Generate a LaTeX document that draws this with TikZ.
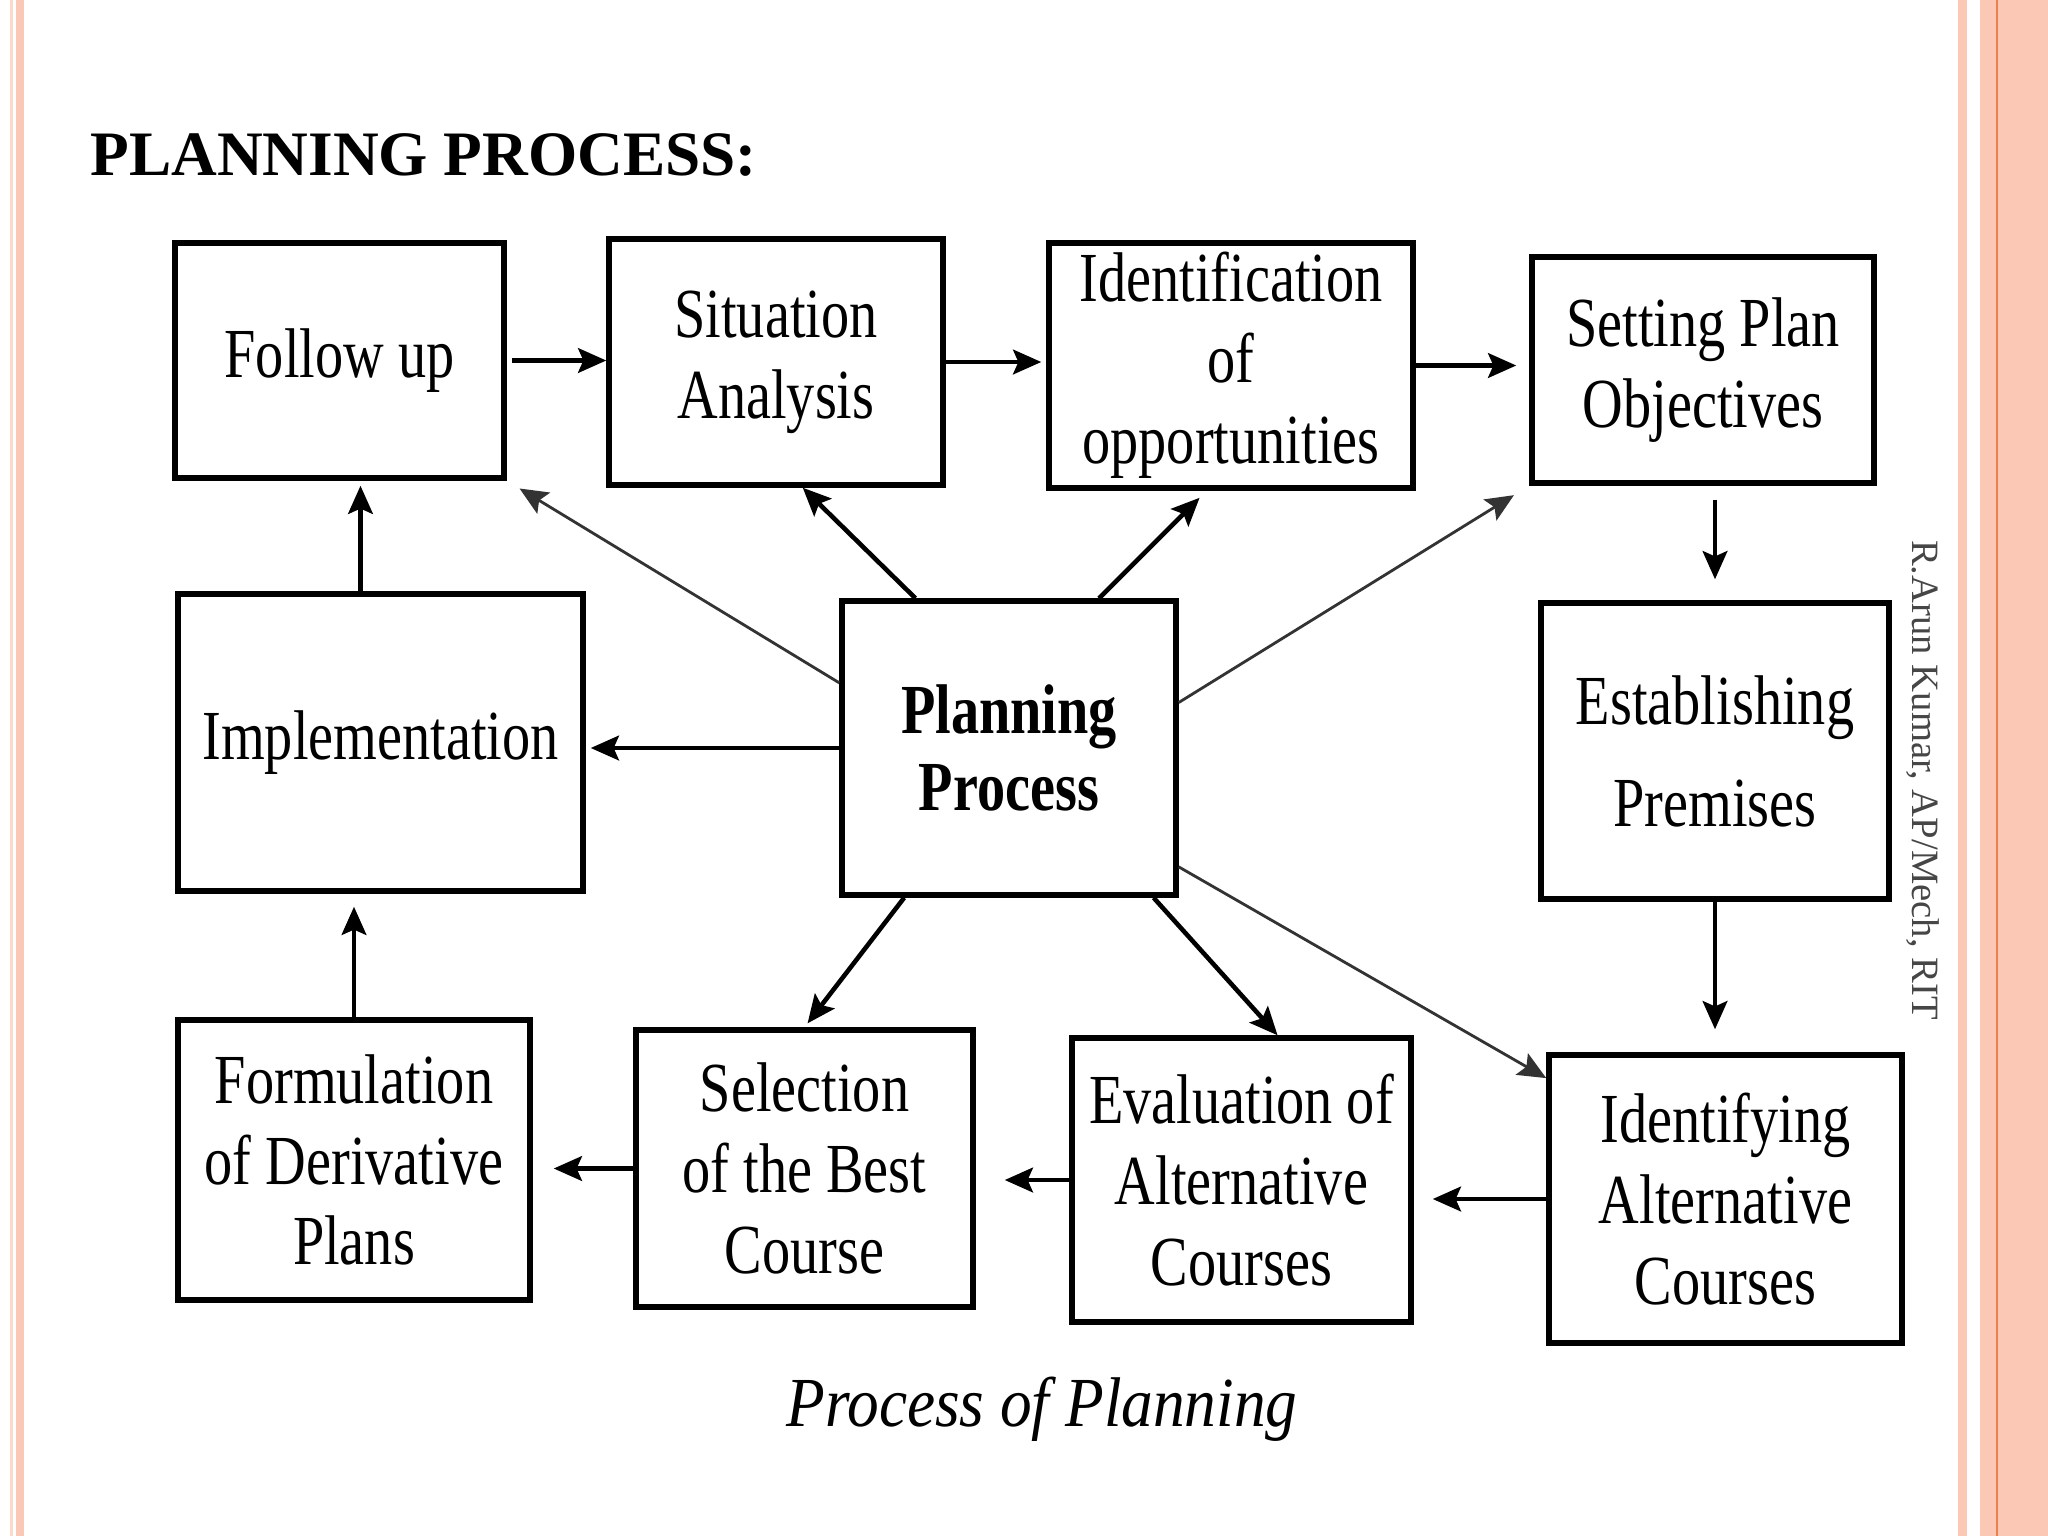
\documentclass[tikz,border=0pt]{standalone}
\usepackage{fontspec}
\setmainfont{Liberation Serif}
\newfontfamily\boxfont[FakeStretch=0.8]{Liberation Serif}
\newfontfamily\capfont[FakeStretch=0.9]{Liberation Serif}
\usetikzlibrary{arrows.meta,calc}
\definecolor{salmon}{RGB}{252,200,182}
\definecolor{salmonline}{RGB}{236,128,80}
\definecolor{markgray}{RGB}{70,70,70}

\begin{document}
\begin{tikzpicture}[x=0.01cm,y=-0.01cm,
  box/.style={draw, line width=1.5pt, inner sep=0pt, align=center,
    font=\boxfont\fontsize{20}{23}\selectfont},
  flow/.style={line width=1.3pt, -{Stealth[length=8pt,width=7pt,inset=1.5pt]}},
  faint/.style={flow, line width=0.8pt, draw=black!80}]
    % page and side stripes
    \useasboundingbox (0,0) rectangle (2048,1536);
    \fill[white] (0,0) rectangle (2048,1536);
    \fill[salmon!70] (10,0) rectangle (13,1536);
    \fill[salmon] (16,0) rectangle (24,1536);
    \fill[salmon] (1958,0) rectangle (1967,1536);
    \fill[salmon] (1980,0) rectangle (2048,1536);
    \fill[salmonline] (1996,0) rectangle (1998,1536);

    \node[anchor=base west, font=\bfseries\fontsize{18}{20}\selectfont] (title) at (78,175) {PLANNING PROCESS:};

    % boxes
    \node[box, minimum width=3.29cm, minimum height=2.35cm] (fu) at (339.5,360.5) {Follow up};
    \node[box, minimum width=3.34cm, minimum height=2.46cm] (sa) at (776,362) {Situation\\Analysis};
    \node[box, minimum width=3.64cm, minimum height=2.45cm] (io) at (1231,365.5) {Identification\\of\\opportunities};
    \node[box, minimum width=3.42cm, minimum height=2.26cm] (sp) at (1703,370) {Setting Plan\\Objectives};
    \node[box, minimum width=4.05cm, minimum height=2.97cm] (im) at (380.5,742.5) {Implementation};
    \node[box, minimum width=3.34cm, minimum height=2.94cm,
      font=\boxfont\bfseries\fontsize{20}{22}\selectfont] (pp) at (1009,748) {Planning\\Process};
    \node[box, minimum width=3.48cm, minimum height=2.96cm] (ep) at (1715,751) {Establishing\\[6pt]Premises};
    \node[box, minimum width=3.52cm, minimum height=2.80cm] (fd) at (354,1160) {Formulation\\of Derivative\\Plans};
    \node[box, minimum width=3.37cm, minimum height=2.77cm] (sb) at (804.5,1168.5) {Selection\\of the Best\\Course};
    \node[box, minimum width=3.39cm, minimum height=2.84cm] (ev) at (1241.5,1180) {Evaluation of\\Alternative\\Courses};
    \node[box, minimum width=3.53cm, minimum height=2.88cm] (ia) at (1725.5,1199) {Identifying\\Alternative\\Courses};

    % the cycle
    \draw[flow, shorten <=0.05cm] (fu.east) -- (fu.east -| sa.west);
    \draw[flow, shorten >=0.05cm] (sa.east) -- (sa.east -| io.west);
    \draw[flow, shorten >=0.13cm] (io.east) -- (io.east -| sp.west);
    \draw[flow, shorten <=0.14cm, shorten >=0.21cm] (ep.north |- sp.south) -- (ep.north);
    \draw[flow, shorten >=0.23cm] (ep.south) -- (ep.south |- ia.north);
    \draw[flow, shorten >=0.19cm] (ia.west) -- (ia.west -| ev.east);
    \draw[flow, shorten >=0.29cm] (ev.west) -- (ev.west -| sb.east);
    \draw[flow, shorten >=0.21cm] (sb.west) -- (sb.west -| fd.east);
    \draw[flow, shorten >=0.13cm] (fd.north) -- (fd.north |- im.south);
    \draw[flow, shorten >=0.05cm] ([xshift=-0.2cm]im.north) -- ([xshift=-0.2cm]im.north |- fu.south);

    % out of the centre
    \draw[flow, shorten >=0.05cm] (pp.west) -- (pp.west -| im.east);
    \draw[faint, shorten >=0.15cm] (pp.159) -- (fu.south east);
    \draw[flow] (pp.122) -- (sa.-78);
    \draw[flow, shorten >=0.1cm] (pp.59) -- (io.-101);
    \draw[faint, shorten >=0.18cm] (pp.15) -- (sp.south west);
    \draw[faint] (pp.-35) -- (ia.146);
    \draw[flow] (pp.-46) -- (ev.76);
    \draw[flow, shorten >=0.05cm] (pp.-125) -- (sb.north);

    \node[anchor=base, font=\capfont\itshape\fontsize{20}{24}\selectfont] (caption) at (1042,1426) {Process of Planning};
    \node[rotate=-90, text=markgray, font=\fontsize{11}{13}\selectfont] (credit) at (1923,780) {R.Arun Kumar, AP/Mech, RIT};
\end{tikzpicture}
\end{document}
